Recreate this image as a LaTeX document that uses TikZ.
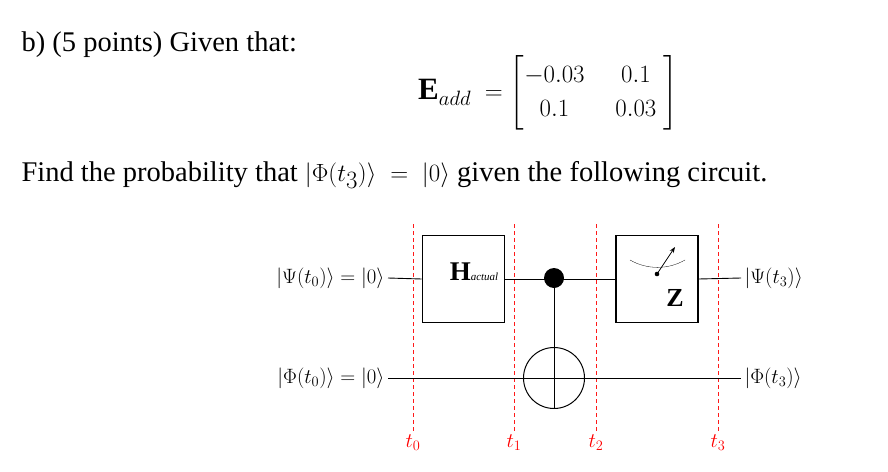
\documentclass[tikz,border=0pt]{standalone}
\usepackage{amsmath}
\usepackage{fontspec}
\setmainfont{Liberation Serif}
\usetikzlibrary{arrows.meta}
\begin{document}
\begin{tikzpicture}[x=1pt,y=-1pt,
  wire/.style={line width=0.9pt},
  tline/.style={red!90,dashed,line width=0.5pt,dash pattern=on 4pt off 3pt},
  gate/.style={draw,line width=1pt,minimum width=82pt,minimum height=87pt,inner sep=0pt},
  lab/.style={font=\fontsize{20}{22}\selectfont},
  tlab/.style={red,font=\fontsize{22}{24}\selectfont}]
\useasboundingbox (0,0) rectangle (888,471);
\node[anchor=west,font=\fontsize{28.5}{32}\selectfont] (title) at (18,45) {b) (5 points) Given that:};
\node[font=\fontsize{31}{34}\selectfont] (mat) at (548,93) {$\mathbf{E}_{add}\;=\begin{bmatrix}-0.03 & \;\;\;0.1\;\\ 0.1 & \;\;\;0.03\;\end{bmatrix}$};
\node[anchor=west,font=\fontsize{28.5}{32}\selectfont] (q) at (18,175) {Find the probability that {\fontsize{34}{34}\selectfont$|\Phi(t_3)\rangle\;=\;|0\rangle$} given the following circuit.};
% time lines
\foreach \x/\n in {413/0,514/1,596/2,718/3}{
  \draw[tline] (\x,224) -- (\x,432);
  \node[tlab] (t\n) at (\x,443) {$t_{\n}$};
}
\node[lab,anchor=east] (inA) at (388,278) {$|\Psi(t_0)\rangle=|0\rangle$};
\node[lab,anchor=east] (inB) at (388,378) {$|\Phi(t_0)\rangle=|0\rangle$};
\node[lab,anchor=west] (outA) at (741,278) {$|\Psi(t_3)\rangle$};
\node[lab,anchor=west] (outB) at (741,378) {$|\Phi(t_3)\rangle$};
\node[gate,line width=0.7pt] (H) at (463,279) {};
\node (Ht) at (474,272) {\fontsize{27}{28}\selectfont$\mathbf{H}$\raisebox{0pt}{\fontsize{11}{11}\selectfont\itshape actual}};
\node[gate,line width=1.3pt] (Z) at (657,279) {};
\node[font=\fontsize{26}{28}\selectfont\bfseries] (Zt) at (675,298) {Z};
\draw[line width=0.3pt] (630,260) arc[start angle=120,end angle=60,radius=55];
\coordinate (piv) at (657,274);
\draw[-{Stealth[length=6pt]},line width=0.8pt] (piv) -- (675,247);
\fill (piv) circle (2.3);
\coordinate (ctl) at (554,278);
\node[draw,circle,line width=1pt,minimum size=61pt,inner sep=0pt] (tgt) at (554,378) {};
\draw[wire] (inA.east) -- (H.west);
\draw[wire] (H.east) -- (Z.west);
\draw[wire] (Z.east) -- (outA.west);
\draw[wire] (inB.east) -- (outB.west);
\draw[wire] (ctl) -- (tgt.south);
\fill (ctl) circle (10);
\end{tikzpicture}
\end{document}
